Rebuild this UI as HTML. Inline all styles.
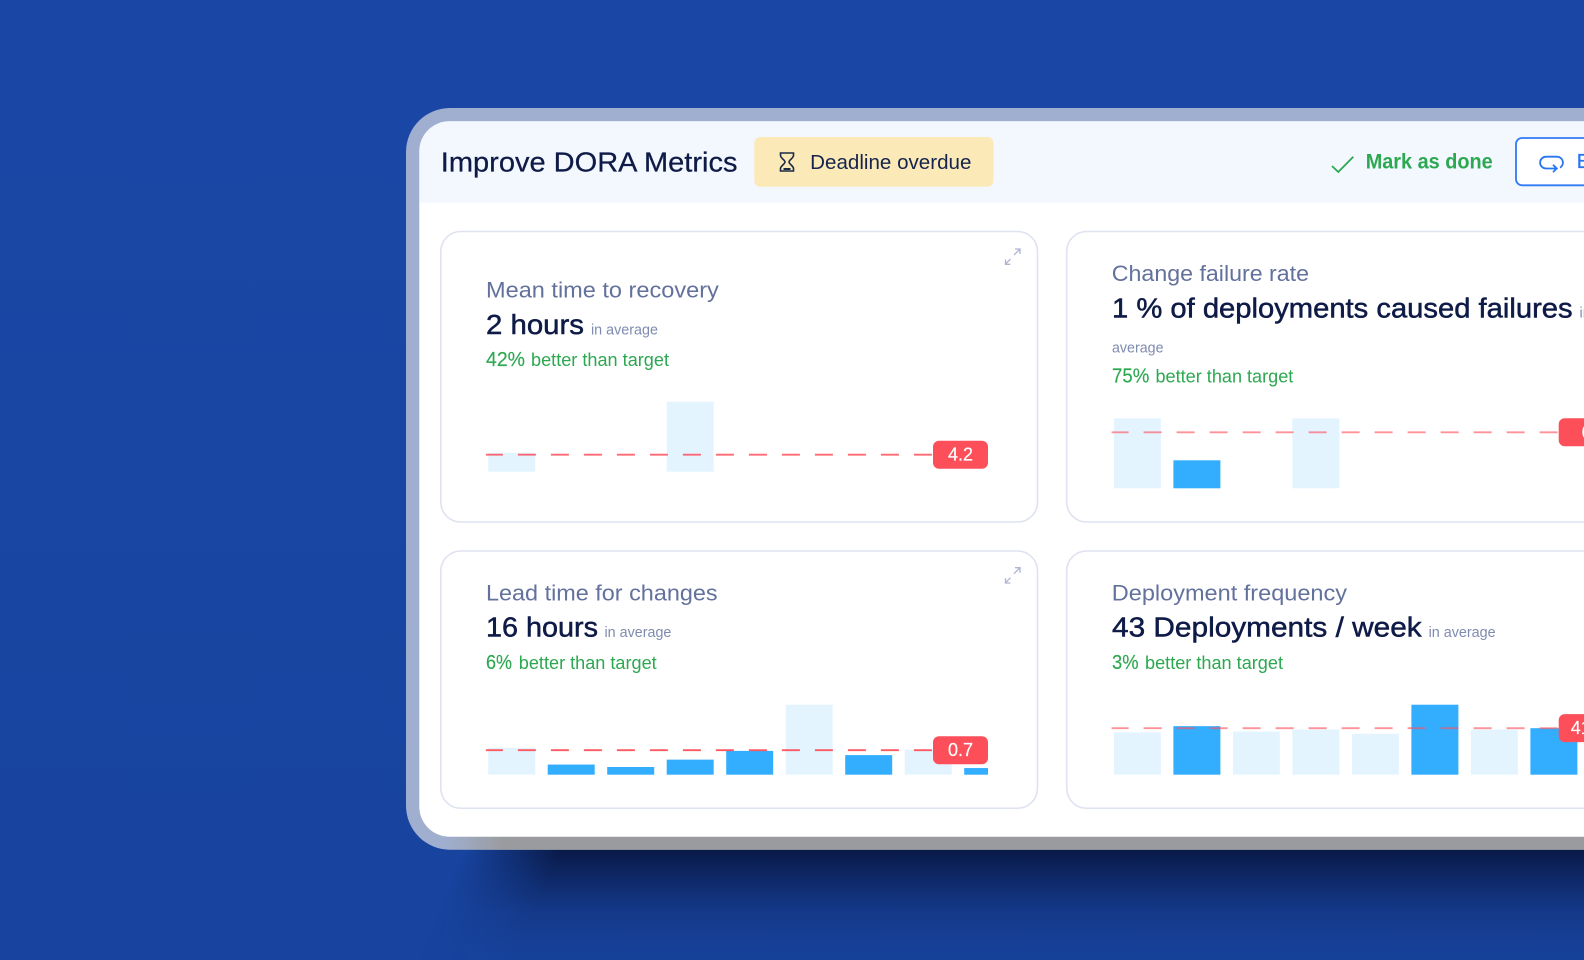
<!DOCTYPE html>
<html lang="en">
<head>
<meta charset="utf-8">
<title>Improve DORA Metrics</title>
<style>
html,body{margin:0;padding:0;background:#1947a6;width:1584px;height:960px;overflow:hidden}
svg{display:block}
text{font-family:"Liberation Sans",sans-serif}
.t-title{font-size:22px;fill:#63719d}
.t-value{font-size:28px;fill:#0f1b47;stroke:#0f1b47;stroke-width:.5}
.t-note{font-size:14.5px;fill:#7f8bb0}
.t-pct{font-size:20px;fill:#2ca850;stroke:#2ca850;stroke-width:.15}
.t-better{font-size:18px;fill:#2ca850}
.t-flag{font-size:18px;fill:#fff;stroke:#fff;stroke-width:.2}
</style>
</head>
<body>
<svg id="stage" xmlns="http://www.w3.org/2000/svg" width="1584" height="960" viewBox="0 0 1584 960">
  <defs>
    <linearGradient id="bgGrad" x1="0" y1="0" x2="0" y2="1">
      <stop offset="0" stop-color="#1a47a6"/>
      <stop offset="1" stop-color="#18449f"/>
    </linearGradient>
    <linearGradient id="shadeV" gradientUnits="userSpaceOnUse" x1="0" y1="850" x2="0" y2="955">
      <stop offset="0" stop-color="#081640" stop-opacity="0.92"/>
      <stop offset="0.3" stop-color="#081640" stop-opacity="0.55"/>
      <stop offset="0.6" stop-color="#081640" stop-opacity="0.22"/>
      <stop offset="1" stop-color="#081640" stop-opacity="0.05"/>
    </linearGradient>
    <linearGradient id="shadeFade" gradientUnits="userSpaceOnUse" x1="465" y1="850" x2="545" y2="885">
      <stop offset="0" stop-color="#000"/>
      <stop offset="1" stop-color="#fff"/>
    </linearGradient>
    <mask id="shadeMask" maskUnits="userSpaceOnUse" x="400" y="840" width="1184" height="120">
      <rect x="400" y="840" width="1184" height="120" fill="url(#shadeFade)"/>
    </mask>
    <linearGradient id="frameBottom" gradientUnits="userSpaceOnUse" x1="445" y1="0" x2="505" y2="0">
      <stop offset="0" stop-color="#9a9b9e" stop-opacity="0"/>
      <stop offset="1" stop-color="#9a9b9e" stop-opacity="1"/>
    </linearGradient>
    <clipPath id="frameClip"><rect x="406" y="108" width="1400" height="741.7" rx="44"/></clipPath>
    <clipPath id="innerClip"><rect x="419.3" y="121.3" width="1300" height="715.4" rx="30"/></clipPath>
    <clipPath id="plotClipLeft"><rect x="480" y="380" width="508" height="420"/></clipPath>
  </defs>

  <rect x="0" y="0" width="1584" height="960" fill="url(#bgGrad)"/>
  <rect x="400" y="849" width="1184" height="111" fill="url(#shadeV)" mask="url(#shadeMask)"/>
  <rect x="406" y="108" width="1400" height="741.7" rx="44" fill="#a0afcf"/>
  <rect x="406" y="830" width="1178" height="20" fill="url(#frameBottom)" clip-path="url(#frameClip)"/>
  <rect x="419.3" y="121.3" width="1300" height="715.4" rx="30" fill="#fff"/>
  <rect x="419.3" y="121.3" width="1300" height="81.4" fill="#f3f8ff" clip-path="url(#innerClip)"/>

  <text x="440.8" y="171.3" font-size="27.5" fill="#0f1b47" stroke="#0f1b47" stroke-width=".25" textLength="296.7" lengthAdjust="spacingAndGlyphs">Improve DORA Metrics</text>

  <g>
    <rect x="754.3" y="137" width="239.2" height="49.7" rx="6" fill="#fbeab8"/>
    <g fill="none" stroke="#1d2a44" stroke-width="1.6">
      <path d="M780.5 153h13v2.5c0 2.5-4.5 4.5-4.5 6.5s4.5 4 4.5 6.5v2.5h-13v-2.5c0-2.5 4.5-4.5 4.5-6.5s-4.5-4-4.5-6.5z"/>
      <path d="M783.5 169h7" stroke-width="2"/>
    </g>
    <text x="810.2" y="169" font-size="20.5" fill="#15244f" textLength="161.2" lengthAdjust="spacingAndGlyphs">Deadline overdue</text>
  </g>

  <g>
    <path d="M1332 166l6.3 6 15-15.3" fill="none" stroke="#2ca850" stroke-width="1.8"/>
    <text x="1365.7" y="168.3" font-size="21" font-weight="700" fill="#2ca850" textLength="127" lengthAdjust="spacingAndGlyphs">Mark as done</text>
  </g>

  <g>
    <rect x="1516" y="138" width="120" height="47.3" rx="6" fill="#fff" stroke="#2f7bf5" stroke-width="1.8"/>
    <g fill="none" stroke="#2776f0" stroke-width="1.8">
      <path d="M1557 168.5h-11a5.9 5.9 0 0 1 0-11.8h11a5.9 5.9 0 0 1 3 11"/>
      <path d="M1553 164.8l3.8 3.7-3.8 3.6"/>
    </g>
    <text x="1576.7" y="168" font-size="20.5" fill="#2776f0" stroke="#2776f0" stroke-width=".3">Edit</text>
  </g>

  <g>
    <rect x="440.8" y="231.5" width="596.7" height="290.5" rx="20" fill="#fff" stroke="#dfe3f0" stroke-width="1.6"/>
    <g fill="none" stroke="#aeb4d2" stroke-width="1.3">
      <path d="M1005.5 264l5-5M1005.5 259.5v4.8h4.8M1014 255l5.5-5.5M1015 249h5v5"/>
    </g>
    <text class="t-title" x="486" y="297.7" textLength="232.8" lengthAdjust="spacingAndGlyphs">Mean time to recovery</text>
    <text class="t-value" x="486" y="334" textLength="98" lengthAdjust="spacingAndGlyphs">2 hours</text>
    <text class="t-note" x="591" y="334.3" textLength="67" lengthAdjust="spacingAndGlyphs">in average</text>
    <text class="t-pct" x="486" y="366" textLength="39" lengthAdjust="spacingAndGlyphs">42%</text>
    <text class="t-better" x="531" y="366" textLength="138" lengthAdjust="spacingAndGlyphs">better than target</text>
    <g id="chart-recovery"></g>
  </g>

  <g>
    <rect x="1066.7" y="231.5" width="700" height="290.5" rx="20" fill="#fff" stroke="#dfe3f0" stroke-width="1.6"/>
    <text class="t-title" x="1111.8" y="281" textLength="197.2" lengthAdjust="spacingAndGlyphs">Change failure rate</text>
    <text class="t-value" x="1112" y="317.3" textLength="460.6" lengthAdjust="spacingAndGlyphs">1 % of deployments caused failures</text>
    <text class="t-note" x="1579.5" y="317.3">in</text>
    <text class="t-note" x="1112" y="352.3" textLength="51.5" lengthAdjust="spacingAndGlyphs">average</text>
    <text class="t-pct" x="1112" y="382.3" textLength="37.3" lengthAdjust="spacingAndGlyphs">75%</text>
    <text class="t-better" x="1155.5" y="382.3" textLength="137.8" lengthAdjust="spacingAndGlyphs">better than target</text>
    <g id="chart-failure"></g>
  </g>

  <g>
    <rect x="440.8" y="551" width="596.7" height="257.3" rx="20" fill="#fff" stroke="#dfe3f0" stroke-width="1.6"/>
    <g fill="none" stroke="#aeb4d2" stroke-width="1.3">
      <path d="M1005.5 582.7l5-5M1005.5 578.2v4.8h4.8M1014 573.7l5.5-5.5M1015 567.7h5v5"/>
    </g>
    <text class="t-title" x="486" y="600.7" textLength="231.6" lengthAdjust="spacingAndGlyphs">Lead time for changes</text>
    <text class="t-value" x="486" y="636.7" textLength="112" lengthAdjust="spacingAndGlyphs">16 hours</text>
    <text class="t-note" x="604.5" y="637" textLength="66.9" lengthAdjust="spacingAndGlyphs">in average</text>
    <text class="t-pct" x="486" y="669" textLength="26" lengthAdjust="spacingAndGlyphs">6%</text>
    <text class="t-better" x="518.8" y="669" textLength="137.9" lengthAdjust="spacingAndGlyphs">better than target</text>
    <g id="chart-lead"></g>
  </g>

  <g>
    <rect x="1066.7" y="551" width="700" height="257.3" rx="20" fill="#fff" stroke="#dfe3f0" stroke-width="1.6"/>
    <text class="t-title" x="1111.8" y="600.7" textLength="235.2" lengthAdjust="spacingAndGlyphs">Deployment frequency</text>
    <text class="t-value" x="1112" y="636.7" textLength="309.7" lengthAdjust="spacingAndGlyphs">43 Deployments / week</text>
    <text class="t-note" x="1428.6" y="637" textLength="67" lengthAdjust="spacingAndGlyphs">in average</text>
    <text class="t-pct" x="1112" y="669" textLength="26.5" lengthAdjust="spacingAndGlyphs">3%</text>
    <text class="t-better" x="1145" y="669" textLength="138" lengthAdjust="spacingAndGlyphs">better than target</text>
    <g id="chart-deploy"></g>
  </g>
</svg>

<script>
const recoveryValues = [4.7, 0, 0, 17.3, 0, 0, 0, 0, 0];
const recoveryTarget = 4.2;
const failureValues = [1.0, 0.4, 0, 1.0, 0, 0, 0, 0];
const failureTarget = 0.8;
const leadValues = [0.77, 0.29, 0.22, 0.43, 0.68, 2.0, 0.56, 0.72, 0.19];
const leadTarget = 0.7;
const deployValues = [37.3, 42.8, 38.1, 39.9, 36.1, 61.7, 39.9, 41];
const deployTarget = 41;

const NS = 'http://www.w3.org/2000/svg';
const BAR_WIDTH = 47;
const BAR_STEP = 59.5;
const PLOT_HEIGHT = 70;
const COLOR_STRONG = '#33aeff';
const COLOR_SOFT = '#e3f4ff';

function drawChart(groupId, values, target, higherIsBetter, plot) {
  const group = document.getElementById(groupId);
  const maxValue = Math.max.apply(null, values);
  const yScale = function (v) { return plot.baseline - (v / maxValue) * PLOT_HEIGHT; };
  const xScale = function (i) { return plot.left + i * BAR_STEP; };

  values.forEach(function (v, i) {
    const bar = document.createElementNS(NS, 'rect');
    
    
    bar.setAttribute('x', xScale(i));
    bar.setAttribute('y', yScale(v));
    bar.setAttribute('width', BAR_WIDTH);
    bar.setAttribute('height', plot.baseline - yScale(v));
    const strong = higherIsBetter ? v >= target : v < target;
    bar.setAttribute('fill', strong ? COLOR_STRONG : COLOR_SOFT);
    if (plot.clip) { bar.setAttribute('clip-path', plot.clip); }
    group.appendChild(bar);
  });

  const targetY = yScale(target);
  const line = document.createElementNS(NS, 'line');
  
  
  line.setAttribute('x1', plot.left - 2.3);
  line.setAttribute('x2', plot.flagX);
  line.setAttribute('y1', targetY);
  line.setAttribute('y2', targetY);
  line.setAttribute('stroke', '#ff4f5a');
  line.setAttribute('stroke-opacity', plot.lineOpacity);
  line.setAttribute('stroke-width', '1.8');
  line.setAttribute('stroke-dasharray', '18 15');
  line.setAttribute('stroke-dashoffset', '1');
  group.appendChild(line);

  const flag = document.createElementNS(NS, 'rect');
  
  
  flag.setAttribute('x', plot.flagX);
  flag.setAttribute('y', targetY - 14);
  flag.setAttribute('width', 55);
  flag.setAttribute('height', 28);
  flag.setAttribute('rx', 6);
  flag.setAttribute('fill', '#fc4f5a');
  group.appendChild(flag);

  const label = document.createElementNS(NS, 'text');
  
  
  label.setAttribute('class', 't-flag');
  label.setAttribute('x', plot.flagX + plot.labelInset);
  label.setAttribute('y', targetY + 6);
  label.textContent = String(target);
  group.appendChild(label);
}

drawChart('chart-recovery', recoveryValues, recoveryTarget, false,
  { left: 488.2, baseline: 471.7, flagX: 933, labelInset: 15, lineOpacity: 0.85, clip: 'url(#plotClipLeft)' });
drawChart('chart-failure', failureValues, failureTarget, false,
  { left: 1113.9, baseline: 488.3, flagX: 1558.7, labelInset: 23, lineOpacity: 0.62 });
drawChart('chart-lead', leadValues, leadTarget, false,
  { left: 488.2, baseline: 774.7, flagX: 933, labelInset: 15, lineOpacity: 0.95, clip: 'url(#plotClipLeft)' });
drawChart('chart-deploy', deployValues, deployTarget, true,
  { left: 1113.9, baseline: 774.7, flagX: 1558.7, labelInset: 12, lineOpacity: 0.62 });
</script>
</body>
</html>
